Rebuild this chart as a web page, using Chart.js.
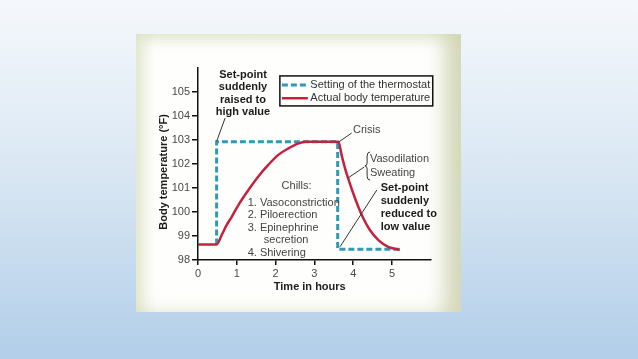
<!DOCTYPE html>
<html><head><meta charset="utf-8">
<script src="https://cdn.jsdelivr.net/npm/chart.js@4.4.1/dist/chart.umd.min.js"></script>
<style>
html,body{margin:0;padding:0;width:638px;height:359px;overflow:hidden;}
body{background:linear-gradient(to bottom,#f5f8fc 0%,#d9e7f3 48%,#b2cee9 100%);position:relative;font-family:"Liberation Sans",Arial,sans-serif;}
#panel{position:absolute;left:136px;top:34px;width:325px;height:278px;background:#fefefd;
box-shadow: inset 14px 10px 14px -6px rgba(205,215,168,0.6), inset -22px -2px 20px -6px rgba(188,194,146,0.65);}
#wrap{position:absolute;left:0;top:0;width:638px;height:359px;}
</style></head><body>
<div id="panel"></div>
<div id="wrap"><canvas id="c" width="638" height="359"></canvas></div>
<script>
// ---- data ----
const xTicks = [0, 1, 2, 3, 4, 5];
const yTicks = [98, 99, 100, 101, 102, 103, 104, 105];
const seriesLabels = ['Setting of the thermostat', 'Actual body temperature'];
const thermostatHours = [0.48, 0.48, 3.6, 3.6, 5.2];
const thermostatTemps = [98.65, 102.93, 102.93, 98.45, 98.45];
const bodyHours = [0, 0.48, 0.61, 0.74, 0.87, 1.04, 1.30, 1.55, 1.81, 2.07, 2.33, 2.59, 2.76, 3.62, 3.70, 3.79, 3.87, 4.0, 4.13, 4.26, 4.43, 4.65, 4.90, 5.2];
const bodyTemps = [98.65, 98.65, 99.04, 99.46, 99.80, 100.29, 100.92, 101.47, 101.96, 102.38, 102.65, 102.86, 102.93, 102.93, 102.38, 101.82, 101.40, 100.78, 100.22, 99.74, 99.25, 98.83, 98.55, 98.43];
const xTitle = 'Time in hours';
const yTitle = 'Body temperature (°F)';
const raisedText = ['Set-point', 'suddenly', 'raised to', 'high value'];
const reducedText = ['Set-point', 'suddenly', 'reduced to', 'low value'];
const crisisText = 'Crisis';
const responseText = ['Vasodilation', 'Sweating'];
const chillsTitle = 'Chills:';
const chillsList = ['1. Vasoconstriction', '2. Piloerection', '3. Epinephrine', 'secretion', '4. Shivering'];

const FONT = '"Liberation Sans", Arial, sans-serif';
const TEAL = '#2d9ab6';
const RED = '#c3223f';

const toXY = (xs, ys) => xs.map((v, i) => ({x: v, y: ys[i]}));

const annot = {
  id: 'annot',
  afterDatasetsDraw(chart) {
    const {ctx, scales: {x, y}} = chart;
    const X = h => x.getPixelForValue(h), Y = t => y.getPixelForValue(t);
    ctx.save();
    // axis titles
    ctx.fillStyle = '#1c1c1c';
    ctx.font = 'bold 11px ' + FONT;
    ctx.textAlign = 'center'; ctx.textBaseline = 'middle';
    ctx.fillText(xTitle, X(2.88), Y(96.86));
    ctx.save();
    ctx.translate(X(-0.88), Y(101.67));
    ctx.rotate(-Math.PI / 2);
    ctx.fillText(yTitle, 0, 0);
    ctx.restore();

    // leader lines
    ctx.strokeStyle = '#333';
    ctx.lineWidth = 1;
    const seg = (a, b, c, d) => { ctx.beginPath(); ctx.moveTo(X(a), Y(b)); ctx.lineTo(X(c), Y(d)); ctx.stroke(); };
    seg(0.70, 103.92, 0.48, 102.94);
    seg(3.63, 102.92, 3.96, 103.29);
    seg(4.28, 101.87, 3.87, 101.42);
    seg(4.61, 100.92, 3.66, 98.55);

    // brace
    const bx = X(4.41), cx = X(4.30), t0 = Y(102.5), t1 = Y(101.33), tm = Y(101.92);
    ctx.beginPath();
    ctx.moveTo(bx + 1, t0);
    ctx.quadraticCurveTo(bx - 2, t0, bx - 2, t0 + 4);
    ctx.lineTo(bx - 2, tm - 3);
    ctx.quadraticCurveTo(bx - 2, tm, cx, tm);
    ctx.quadraticCurveTo(bx - 2, tm, bx - 2, tm + 3);
    ctx.lineTo(bx - 2, t1 - 4);
    ctx.quadraticCurveTo(bx - 2, t1, bx + 1, t1);
    ctx.stroke();

    // bold annotations
    ctx.fillStyle = '#1a1a1a';
    ctx.font = 'bold 11px ' + FONT;
    ctx.textAlign = 'center';
    raisedText.forEach((s, i) => ctx.fillText(s, X(1.16), Y(105.71) + i * 12.4));
    ctx.textAlign = 'left';
    reducedText.forEach((s, i) => ctx.fillText(s, X(4.71), Y(100.99) + i * 12.8));

    // regular annotations
    ctx.fillStyle = '#444';
    ctx.font = '11px ' + FONT;
    ctx.fillText(crisisText, X(3.995), Y(103.42));
    responseText.forEach((s, i) => ctx.fillText(s, X(4.43), Y(102.2) + i * 13.4));
    ctx.textAlign = 'center';
    ctx.fillText(chillsTitle, X(2.54), Y(101.08));
    chillsList.forEach((s, i) => {
      const yy = Y(100.39) + i * 12.5;
      if (s === 'secretion') { ctx.textAlign = 'center'; ctx.fillText(s, X(2.27), yy); }
      else { ctx.textAlign = 'left'; ctx.fillText(s, X(1.28), yy); }
    });

    // legend
    const lx = X(2.11), ly = Y(105.67), rx = X(6.05), by = Y(104.42);
    ctx.strokeStyle = '#111'; ctx.lineWidth = 1.5;
    ctx.strokeRect(lx, ly, rx - lx, by - ly);
    const order = [1, 0];
    order.forEach((di, row) => {
      const ds = chart.data.datasets[di];
      const yy = ly + 9 + row * 13.3;
      ctx.beginPath();
      ctx.setLineDash(ds.borderDash || []);
      ctx.strokeStyle = ds.borderColor; ctx.lineWidth = ds.borderWidth;
      ctx.moveTo(lx + 2, yy); ctx.lineTo(lx + 28, yy); ctx.stroke();
      ctx.setLineDash([]);
      ctx.fillStyle = '#333'; ctx.font = '11px ' + FONT; ctx.textAlign = 'left';
      ctx.fillText(ds.label, lx + 30.5, yy);
    });
    ctx.restore();
  }
};

new Chart(document.getElementById('c'), {
  type: 'line',
  data: {
    datasets: [
      {label: seriesLabels[1], data: toXY(bodyHours, bodyTemps), borderColor: RED, borderWidth: 2.5,
       pointRadius: 0, fill: false, cubicInterpolationMode: 'monotone'},
      {label: seriesLabels[0], data: toXY(thermostatHours, thermostatTemps), borderColor: TEAL, borderWidth: 3,
       borderDash: [6, 3], pointRadius: 0, fill: false, tension: 0}
    ]
  },
  options: {
    responsive: false, animation: false, devicePixelRatio: 1,
    layout: {padding: {left: 150, right: 207.2, top: 68, bottom: 0}},
    plugins: {legend: {display: false}, tooltip: {enabled: false}},
    scales: {
      x: {
        type: 'linear', min: 0, max: 6,
        afterBuildTicks: s => { s.ticks = xTicks.map(v => ({value: v})); },
        afterFit: s => { s.height = 99; },
        ticks: {color: '#4a4a4a', font: {family: FONT, size: 11}, padding: 2},
        grid: {drawOnChartArea: false, drawTicks: true, tickLength: 5, color: '#111', lineWidth: 1.5},
        border: {display: true, color: '#111', width: 1.5}
      },
      y: {
        min: 98, max: 106,
        afterBuildTicks: s => { s.ticks = yTicks.map(v => ({value: v})); },
        afterFit: s => { s.width = 48; },
        ticks: {color: '#4a4a4a', font: {family: FONT, size: 11}, padding: 2},
        grid: {drawOnChartArea: false, drawTicks: true, tickLength: 6, color: '#111', lineWidth: 1.5},
        border: {display: true, color: '#111', width: 1.5}
      }
    }
  },
  plugins: [annot]
});
</script>
</body></html>
